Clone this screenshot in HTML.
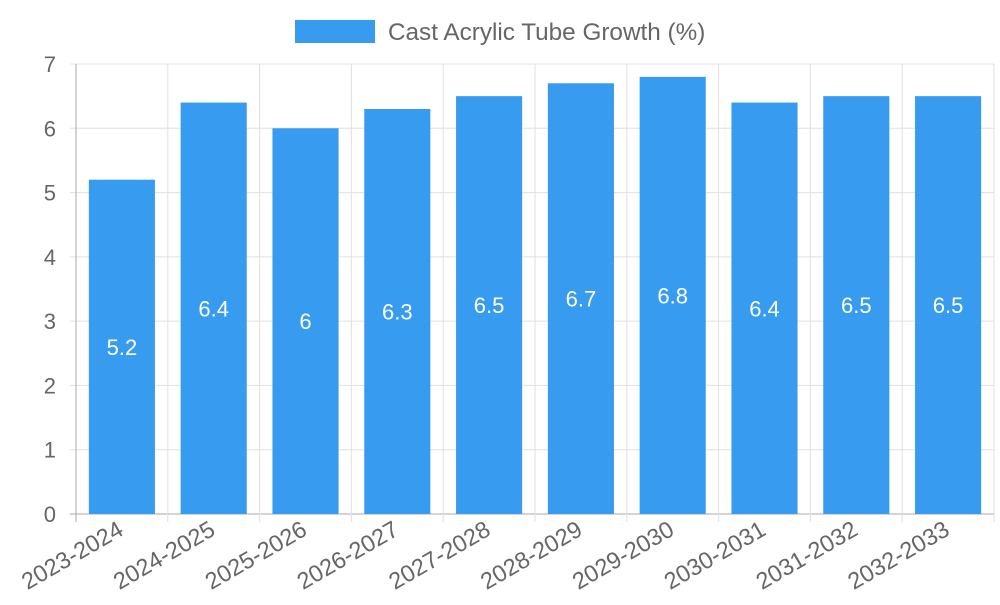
<!DOCTYPE html>
<html><head><meta charset="utf-8"><style>
body{margin:0;background:#fff}
svg text{font-family:"Liberation Sans",sans-serif}
</style></head><body>
<svg id="chart" width="1000" height="600">
<rect x="295" y="20" width="80" height="23" fill="#379cf0"/>
<text x="388" y="40" font-size="24.3" fill="#666">Cast Acrylic Tube Growth (%)</text>
<g id="grid"></g><g id="bars"></g><g id="labels"></g>
</svg>
<script>
const categories=["2023-2024","2024-2025","2025-2026","2026-2027","2027-2028","2028-2029","2029-2030","2030-2031","2031-2032","2032-2033"];
const values=[5.2,6.4,6,6.3,6.5,6.7,6.8,6.4,6.5,6.5];
const yTicks=[0,1,2,3,4,5,6,7];
const L=76,R=994,T=64,B=514,yMax=7;
const ns="http://www.w3.org/2000/svg";
const bw=(R-L)/categories.length;
const y=v=>B-(v/yMax)*(B-T);
const x=i=>L+bw*i;
function mk(tag,attrs,parent){const e=document.createElementNS(ns,tag);for(const k in attrs)e.setAttribute(k,attrs[k]);document.getElementById(parent).appendChild(e);return e;}
yTicks.forEach(t=>{
 const g=mk('line',{x1:L-6,x2:R,y1:y(t),y2:y(t),stroke:t===0?'#aaa':'#e0e0e0','stroke-width':1},'grid');
 
 
 const tx=mk('text',{x:L-20,y:y(t)+8,'font-size':22,fill:'#666','text-anchor':'end'},'labels');
 tx.textContent=t;
 
 
});
for(let i=0;i<=categories.length;i++){
 const g=mk('line',{x1:x(i),x2:x(i),y1:T,y2:B+8,stroke:i===0?'#aaa':'#e0e0e0'},'grid');
 
 
}
categories.forEach((c,i)=>{
 const cx=x(i)+bw/2,w=bw*0.72;
 const r=mk('rect',{x:cx-w/2,y:y(values[i]),width:w,height:B-y(values[i]),fill:'#379cf0'},'bars');
 
 
 const v=mk('text',{x:cx,y:(y(values[i])+B)/2+8,'font-size':22,fill:'#fff','text-anchor':'middle'},'labels');
 v.textContent=values[i];
 
 
 const t=mk('text',{x:cx+3,y:B+20,'font-size':23.5,fill:'#666','text-anchor':'end',transform:`rotate(-30 ${cx+3} ${B+20})`},'labels');
 t.textContent=c;
 
 
});
</script>
</body></html>
